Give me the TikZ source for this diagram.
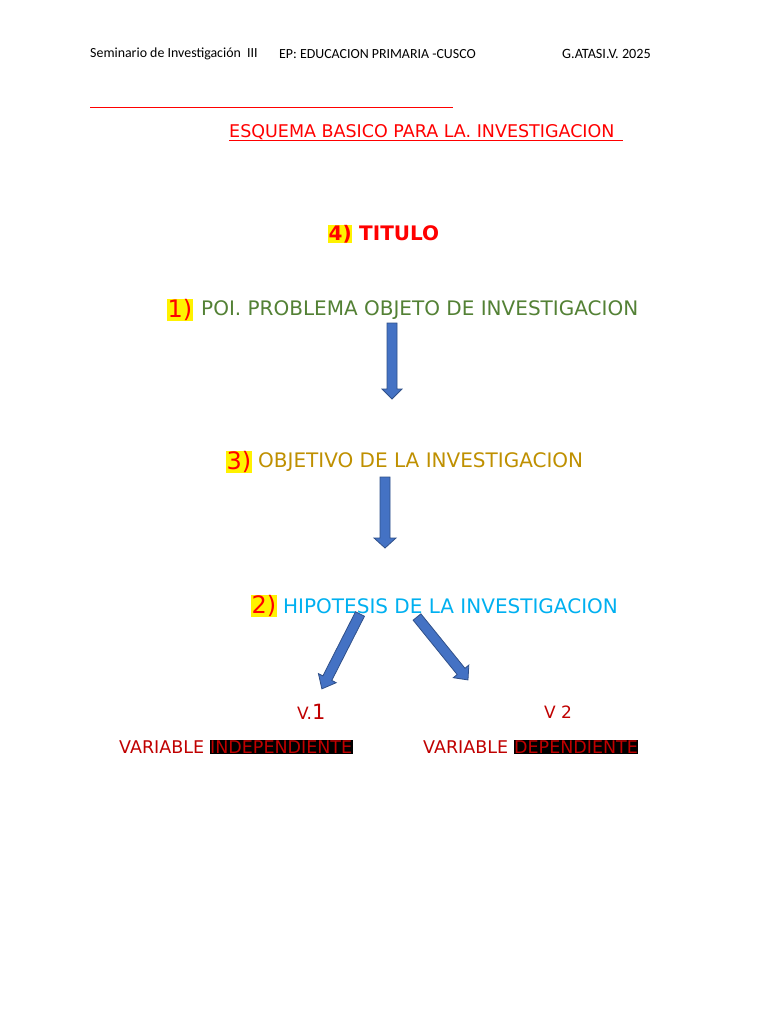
\documentclass[tikz,border=0pt]{standalone}
\usepackage{fontspec}
\setmainfont{DejaVu Sans}
\newfontfamily\hdr{Carlito}
\usetikzlibrary{arrows.meta}
\definecolor{dred}{HTML}{C00000}
\definecolor{gr}{HTML}{538135}
\definecolor{gold}{HTML}{BF9000}
\definecolor{cy}{HTML}{00B0F0}
\definecolor{ab}{HTML}{4472C4}
\newcommand{\hl}[1]{{\setlength{\fboxsep}{0.5pt}\colorbox{yellow}{#1}}}
\newcommand{\bk}[1]{{\setlength{\fboxsep}{0.5pt}\colorbox{black}{#1}}}
\begin{document}
\begin{tikzpicture}[x=1pt,y=-1pt,
  txt/.style={inner sep=0pt,anchor=west},
  barrow/.style={draw=ab!70!black,fill=ab,line width=0.8pt}]
\useasboundingbox (0,0) rectangle (768,1024);
\fill[white] (0,0) rectangle (768,1024);
\node[txt,font=\hdr\fontsize{13.9}{15}\selectfont] (h1) at (90,54) {Seminario de Investigación\ \ III};
\node[txt,font=\hdr\fontsize{13.9}{15}\selectfont] (h2) at (279,54) {EP: EDUCACION PRIMARIA -CUSCO};
\node[txt,font=\hdr\fontsize{14.2}{15}\selectfont] (h3) at (562,54) {G.ATASI.V. 2025};
\draw[red,line width=0.8pt] (90,107) -- (453,107);
\node[txt,text=red,font=\fontsize{17.5}{19}\selectfont] (t) at (229,132) {ESQUEMA BASICO PARA LA. INVESTIGACION\ };
\draw[red,line width=0.7pt] (229,140) -- (623,140);
\node[txt,text=red,font=\bfseries\fontsize{20}{22}\selectfont] (tit) at (328,234) {\hl{4)} TITULO};
\node[txt,text=red,font=\fontsize{24}{26}\selectfont] (n1) at (167,310) {\hl{1)}};
\node[txt,text=gr,font=\fontsize{20}{22}\selectfont] (poi) at (201,310) {POI. PROBLEMA OBJETO DE INVESTIGACION};
\node[txt,text=red,font=\fontsize{24}{26}\selectfont] (n3) at (226,462) {\hl{3)}};
\node[txt,text=gold,font=\fontsize{20}{22}\selectfont] (obj) at (258,462) {OBJETIVO DE LA INVESTIGACION};
\node[txt,text=red,font=\fontsize{24}{26}\selectfont] (n2) at (251,606) {\hl{2)}};
\node[txt,text=cy,font=\fontsize{20}{22}\selectfont] (hip) at (283,606) {HIPOTESIS DE LA INVESTIGACION};
\node[txt,text=dred,font=\fontsize{17}{19}\selectfont] (v1) at (297,712) {V.{\fontsize{21}{22}\selectfont1}};
\node[txt,text=dred,font=\fontsize{17}{19}\selectfont] (v2) at (544,712) {V 2};
\node[txt,text=dred,font=\fontsize{17.5}{19}\selectfont] (vi) at (119,747) {VARIABLE \bk{INDEPENDIENTE}};
\node[txt,text=dred,font=\fontsize{17.5}{19}\selectfont] (vd) at (423,747) {VARIABLE \bk{DEPENDIENTE}};
% block arrows
\draw[barrow] (387,323) -- (397,323) -- (397,389) -- (402,389) -- (392,399) -- (382,389) -- (387,389) -- cycle;
\draw[barrow] (380,477) -- (390,477) -- (390,538) -- (396,538) -- (385,548) -- (374,538) -- (380,538) -- cycle;
\begin{scope}[shift={(360,614)},rotate=-27]
\draw[barrow] (-5,0) -- (5,0) -- (5,72) -- (10,72) -- (0,84) -- (-10,72) -- (-5,72) -- cycle;
\end{scope}
\begin{scope}[shift={(417,617)},rotate=39]
\draw[barrow] (-5,0) -- (5,0) -- (5,70) -- (10,70) -- (0,81) -- (-10,70) -- (-5,70) -- cycle;
\end{scope}
\end{tikzpicture}
\end{document}
